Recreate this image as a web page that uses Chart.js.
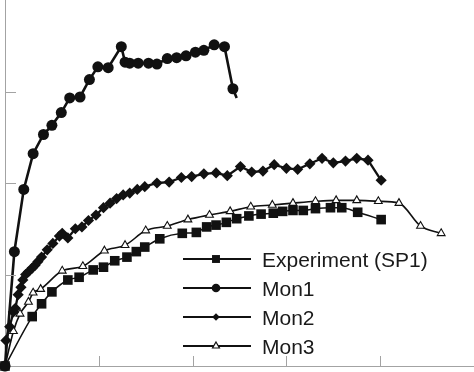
<!DOCTYPE html>
<html><head><meta charset="utf-8">
<style>html,body{margin:0;padding:0;background:#fff;}canvas{display:block;}</style>
<script src="https://cdn.jsdelivr.net/npm/chart.js@4.4.1/dist/chart.umd.min.js"></script>
</head><body>
<canvas id="c" width="474" height="372"></canvas>
<script>
const seriesNames = ['Experiment (SP1)', 'Mon1', 'Mon2', 'Mon3'];

const expX = [0, 0.29, 0.39, 0.50, 0.67, 0.79, 0.94, 1.05, 1.17, 1.30, 1.40, 1.49, 1.65, 1.89, 2.04, 2.15, 2.25, 2.36, 2.47, 2.60, 2.73, 2.86, 2.96, 3.07, 3.18, 3.31, 3.47, 3.59, 3.76, 4.01];
const expY = [0, 0.54, 0.68, 0.81, 0.94, 0.97, 1.05, 1.08, 1.15, 1.19, 1.25, 1.30, 1.39, 1.45, 1.46, 1.52, 1.54, 1.57, 1.61, 1.64, 1.66, 1.67, 1.69, 1.70, 1.70, 1.72, 1.73, 1.73, 1.68, 1.60];

const mon1X = [0, 0.10, 0.20, 0.30, 0.41, 0.50, 0.60, 0.69, 0.80, 0.90, 0.99, 1.10, 1.24, 1.28, 1.33, 1.42, 1.53, 1.62, 1.73, 1.83, 1.93, 2.03, 2.12, 2.23, 2.34, 2.43, 2.47];
const mon1Y = [0, 1.25, 1.93, 2.32, 2.53, 2.63, 2.77, 2.93, 2.94, 3.13, 3.27, 3.26, 3.49, 3.32, 3.31, 3.31, 3.31, 3.30, 3.36, 3.37, 3.39, 3.43, 3.45, 3.51, 3.49, 3.03, 2.93];

const mon2X = [0, 0.01, 0.05, 0.09, 0.11, 0.14, 0.17, 0.19, 0.22, 0.25, 0.29, 0.32, 0.35, 0.39, 0.45, 0.51, 0.58, 0.61, 0.67, 0.75, 0.82, 0.89, 0.97, 1.05, 1.12, 1.19, 1.26, 1.33, 1.41, 1.49, 1.62, 1.75, 1.88, 1.99, 2.12, 2.25, 2.37, 2.51, 2.63, 2.75, 2.87, 3.00, 3.12, 3.25, 3.38, 3.50, 3.63, 3.75, 3.87, 4.01];
const mon2Y = [0, 0.28, 0.43, 0.59, 0.63, 0.78, 0.86, 0.94, 1.00, 1.03, 1.07, 1.10, 1.14, 1.19, 1.27, 1.34, 1.42, 1.45, 1.40, 1.50, 1.52, 1.59, 1.65, 1.73, 1.78, 1.83, 1.87, 1.89, 1.93, 1.96, 2.00, 2.01, 2.06, 2.07, 2.10, 2.11, 2.08, 2.18, 2.12, 2.13, 2.20, 2.16, 2.15, 2.21, 2.27, 2.22, 2.24, 2.27, 2.25, 2.03];

const mon3X = [0, 0.09, 0.16, 0.25, 0.30, 0.38, 0.61, 0.83, 1.06, 1.28, 1.50, 1.73, 1.95, 2.18, 2.40, 2.62, 2.85, 3.07, 3.31, 3.53, 3.75, 3.98, 4.20, 4.43, 4.65];
const mon3Y = [0, 0.38, 0.57, 0.70, 0.80, 0.84, 1.04, 1.09, 1.26, 1.32, 1.48, 1.53, 1.60, 1.65, 1.69, 1.74, 1.76, 1.78, 1.80, 1.81, 1.81, 1.80, 1.78, 1.53, 1.45];

const xTickValues = [1, 2, 3, 4];
const yTickValues = [1, 2, 3];

function pts(xs, ys) { return xs.map((x, i) => ({ x: x, y: ys[i] })); }

const INK = '#111111';
const AXIS = '#a3a3a3';

const datasets = [
  { label: seriesNames[0], data: pts(expX, expY), borderColor: INK, backgroundColor: INK,
    borderWidth: 1.5, pointStyle: 'rect', pointRadius: 6.8, pointBorderWidth: 0,
    cubicInterpolationMode: 'monotone', clip: false, legendRadius: 5.6 },
  { label: seriesNames[1], data: pts(mon1X, mon1Y), borderColor: INK, backgroundColor: INK,
    borderWidth: 2.6, pointStyle: 'circle',
    pointRadius: (c) => c.dataIndex === mon1X.length - 1 ? 0 : 5.5, pointBorderWidth: 0,
    clip: false, legendRadius: 4.3 },
  { label: seriesNames[2], data: pts(mon2X, mon2Y), borderColor: INK, backgroundColor: INK,
    borderWidth: 2.3, pointStyle: 'rectRot', pointRadius: 5.6, pointBorderWidth: 0,
    clip: false, legendRadius: 3.8 },
  { label: seriesNames[3], data: pts(mon3X, mon3Y), borderColor: INK, backgroundColor: '#ffffff',
    borderWidth: 1.6, pointStyle: 'triangle', pointRadius: 4.5, pointBorderWidth: 1.1,
    pointBorderColor: INK, pointBackgroundColor: '#ffffff',
    cubicInterpolationMode: 'monotone', clip: false, legendRadius: 4 }
];

const inwardTicks = {
  id: 'inwardTicks',
  afterDraw(chart) {
    const ctx = chart.ctx, xs = chart.scales.x, ys = chart.scales.y, a = chart.chartArea;
    ctx.save();
    ctx.strokeStyle = AXIS; ctx.lineWidth = 1;
    ctx.beginPath();
    xTickValues.forEach(v => {
      const px = Math.round(xs.getPixelForValue(v)) + 0.5;
      ctx.moveTo(px, a.bottom); ctx.lineTo(px, a.bottom - 10);
    });
    yTickValues.forEach(v => {
      const py = Math.round(ys.getPixelForValue(v)) + 0.5;
      ctx.moveTo(a.left, py); ctx.lineTo(a.left + 11, py);
    });
    ctx.stroke();
    ctx.restore();
  }
};

const lineLegend = {
  id: 'lineLegend',
  afterDraw(chart) {
    const ctx = chart.ctx, a = chart.chartArea;
    const x0 = a.left + 178, x1 = a.left + 246, xm = a.left + 211, tx = a.left + 257;
    const rowY = [259, 288, 317, 346];
    ctx.save();
    chart.data.datasets.forEach((ds, i) => {
      const y = a.top + rowY[i];
      ctx.strokeStyle = INK; ctx.lineWidth = 2;
      ctx.beginPath(); ctx.moveTo(x0, y); ctx.lineTo(x1, y); ctx.stroke();
      ctx.fillStyle = ds.pointStyle === 'triangle' ? '#ffffff' : INK;
      ctx.strokeStyle = INK; ctx.lineWidth = 1.2;
      Chart.helpers.drawPoint(ctx, { pointStyle: ds.pointStyle, rotation: 0,
        radius: ds.legendRadius, borderWidth: ds.pointStyle === 'triangle' ? 1.2 : 0 }, xm, y);
      ctx.fillStyle = '#1a1a1a';
      ctx.font = '21px "Liberation Sans", Arial, sans-serif';
      ctx.textBaseline = 'alphabetic';
      ctx.fillText(ds.label, tx, y + 7.5);
    });
    ctx.restore();
  }
};

new Chart(document.getElementById('c'), {
  type: 'line',
  data: { datasets: datasets },
  options: {
    responsive: false, animation: false, devicePixelRatio: 1,
    layout: { autoPadding: false, padding: { left: 5, right: 0, top: 0, bottom: 6 } },
    plugins: { legend: { display: false }, tooltip: { enabled: false } },
    scales: {
      x: { type: 'linear', min: 0, max: 5,
        ticks: { display: false, stepSize: 1 },
        grid: { display: true, drawOnChartArea: false, drawTicks: false },
        border: { display: true, color: AXIS, width: 1 } },
      y: { type: 'linear', min: 0, max: 4,
        ticks: { display: false, stepSize: 1 },
        grid: { display: true, drawOnChartArea: false, drawTicks: false },
        border: { display: true, color: AXIS, width: 1 } }
    }
  },
  plugins: [inwardTicks, lineLegend]
});
</script>
</body></html>
